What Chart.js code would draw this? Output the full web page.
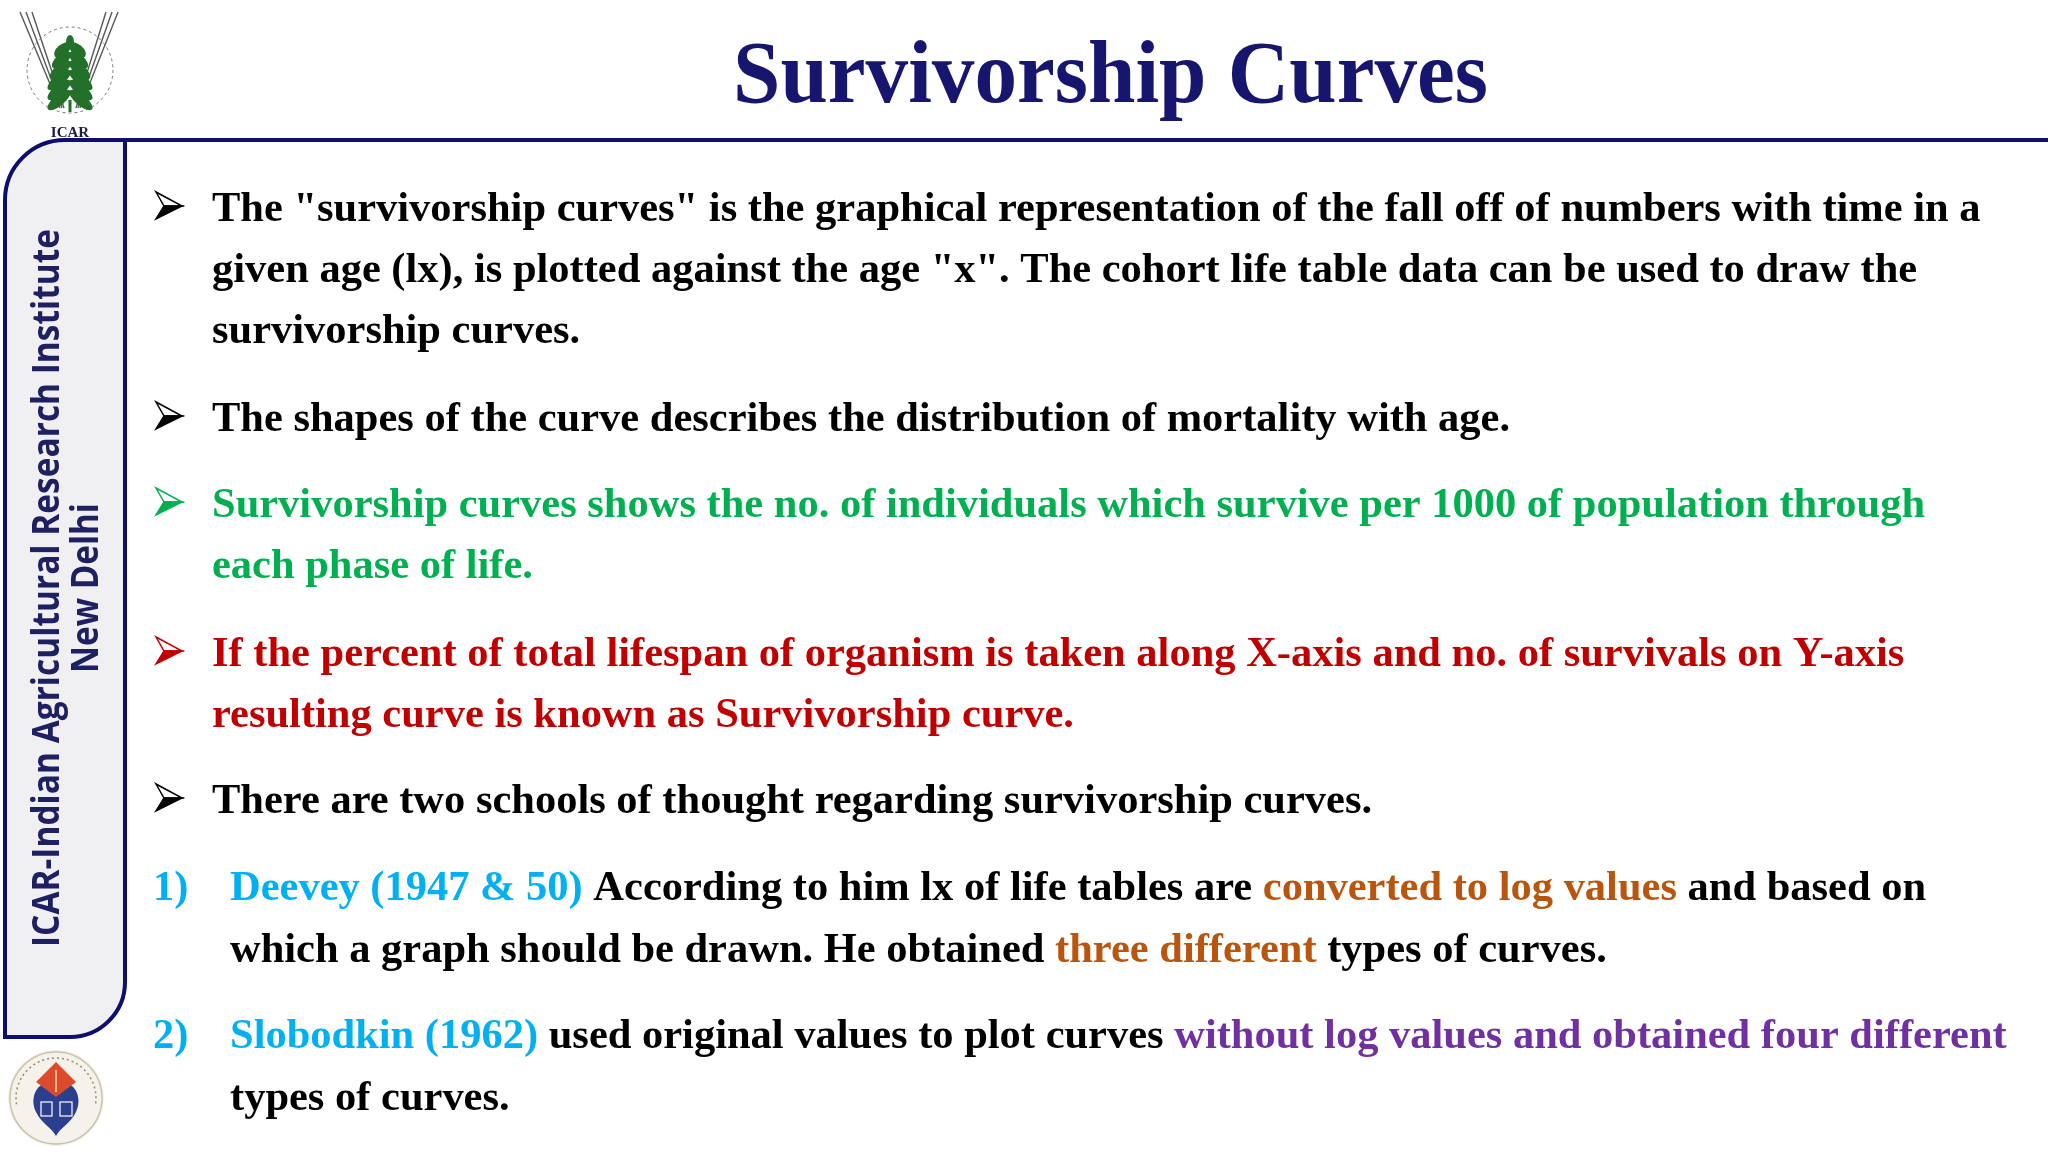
<!DOCTYPE html>
<html>
<head>
<meta charset="utf-8">
<script src="https://cdn.jsdelivr.net/npm/chart.js@4.4.0/dist/chart.umd.min.js"></script>
<style>
    html, body { margin: 0; padding: 0; background: #ffffff; overflow: hidden; }
    canvas { display: block; }
</style>
</head>
<body>
<canvas id="slide" width="2048" height="1152"></canvas>
<script>
// slide content
const titleText = 'Survivorship Curves';
const sideTexts = ['ICAR-Indian Agricultural Research Institute', 'New Delhi'];
const logoLabel = 'ICAR';

// each row: marker ('arrow', '1)', '2)' or ''), marker colour key, text segments [text, colour key]
const rowMarkers = ['arrow', '', '', 'arrow', 'arrow', '', 'arrow', '', 'arrow', '1)', '', '2)', ''];
const rowMarkerColors = ['black', '', '', 'black', 'green', '', 'red', '', 'black', 'cyan', '', 'cyan', ''];
const rowSegments = [
    [['The "survivorship curves" is the graphical representation of the fall off of numbers with time in a', 'black']],
    [['given age (lx), is plotted against the age "x". The cohort life table data can be used to draw the', 'black']],
    [['survivorship curves.', 'black']],
    [['The shapes of the curve describes the distribution of mortality with age.', 'black']],
    [['Survivorship curves shows the no. of individuals which survive per 1000 of population through', 'green']],
    [['each phase of life.', 'green']],
    [['If the percent of total lifespan of organism is taken along X-axis and no. of survivals on Y-axis', 'red']],
    [['resulting curve is known as Survivorship curve.', 'red']],
    [['There are two schools of thought regarding survivorship curves.', 'black']],
    [['Deevey (1947 & 50)', 'cyan'], [' According to him lx of life tables are ', 'black'], ['converted to log values', 'brown'], [' and based on', 'black']],
    [['which a graph should be drawn. He obtained ', 'black'], ['three different', 'brown'], [' types of curves.', 'black']],
    [['Slobodkin (1962)', 'cyan'], [' used original values to plot curves ', 'black'], ['without log values and obtained four different', 'purple']],
    [['types of curves.', 'black']]
];

// layout
const rowBaselines = [221, 282, 343, 431, 517, 578, 666, 727, 813, 900, 962, 1048, 1110];
const rowIndents = [212, 212, 212, 212, 212, 212, 212, 212, 212, 230, 230, 230, 230];

const palette = {
    black: '#000000',
    green: '#00b050',
    red: '#c00000',
    cyan: '#00b0f0',
    brown: '#b8560f',
    purple: '#7030a0',
    navy: '#0e0e6e',
    title: '#16166e',
    side: '#1e2062'
};

function drawArrow(c, x, b, color) {
    // wingdings style arrowhead: outlined top half, solid bottom half
    c.save();
    c.lineJoin = 'miter';
    c.beginPath();
    c.moveTo(x, b - 29);
    c.lineTo(x + 26, b - 15);
    c.lineTo(x + 8, b - 15);
    c.closePath();
    c.fillStyle = '#ffffff';
    c.fill();
    c.strokeStyle = color;
    c.lineWidth = 1.5;
    c.stroke();
    c.beginPath();
    c.moveTo(x + 8, b - 15);
    c.lineTo(x + 26, b - 15);
    c.lineTo(x, b - 2);
    c.closePath();
    c.fillStyle = color;
    c.fill();
    c.stroke();
    c.restore();
}

function drawIcarLogo(c) {
    c.save();
    // crossing straw lines
    c.strokeStyle = '#555a55';
    c.lineWidth = 1.4;
    [20, 26, 32].forEach((sx, i) => {
        c.beginPath(); c.moveTo(sx, 12); c.lineTo(60 + i * 2, 108); c.stroke();
    });
    [106, 112, 118].forEach((sx, i) => {
        c.beginPath(); c.moveTo(sx, 12); c.lineTo(76 + i * 2, 108); c.stroke();
    });
    // dashed ring
    c.setLineDash([3, 3]);
    c.strokeStyle = '#777';
    c.lineWidth = 1;
    c.beginPath(); c.arc(70, 70, 43, 0, Math.PI * 2); c.stroke();
    c.setLineDash([]);
    // wheat ear
    c.fillStyle = '#23702a';
    for (let i = 0; i < 6; i++) {
        const y = 50 + i * 10;
        const w = 10 + Math.min(i, 3) * 1.5;
        c.beginPath(); c.ellipse(70 - w * 0.75, y, w, 5.5, -0.7, 0, Math.PI * 2); c.fill();
        c.beginPath(); c.ellipse(70 + w * 0.75, y, w, 5.5, 0.7, 0, Math.PI * 2); c.fill();
    }
    c.beginPath(); c.ellipse(70, 42, 4, 7, 0, 0, Math.PI * 2); c.fill();
    c.fillRect(68.5, 100, 3, 12);
    c.fillStyle = '#1b1b4a';
    c.font = 'bold 15px "Liberation Serif"';
    c.textAlign = 'center';
    c.fillText(logoLabel, 70, 137);
    c.restore();
}

function drawIariLogo(c) {
    c.save();
    c.fillStyle = '#f4f2ea';
    c.beginPath(); c.arc(56, 1098, 48, 0, Math.PI * 2); c.fill();
    c.strokeStyle = '#c9c3a8';
    c.lineWidth = 1.5;
    c.beginPath(); c.arc(56, 1098, 46, 0, Math.PI * 2); c.stroke();
    c.strokeStyle = '#8f8a70';
    c.setLineDash([2, 3]);
    c.beginPath(); c.arc(56, 1098, 40, Math.PI * 0.95, Math.PI * 2.05); c.stroke();
    c.setLineDash([]);
    // blue leaf
    c.fillStyle = '#2c3f8e';
    c.beginPath();
    c.moveTo(56, 1086);
    c.bezierCurveTo(40, 1076, 28, 1096, 36, 1112);
    c.bezierCurveTo(42, 1124, 52, 1128, 56, 1136);
    c.bezierCurveTo(60, 1128, 70, 1124, 76, 1112);
    c.bezierCurveTo(84, 1096, 72, 1076, 56, 1086);
    c.fill();
    // red diamond
    c.fillStyle = '#dc4a2c';
    c.beginPath();
    c.moveTo(56, 1062); c.lineTo(76, 1082); c.lineTo(56, 1097); c.lineTo(36, 1082);
    c.closePath(); c.fill();
    c.strokeStyle = '#f4d9a0';
    c.lineWidth = 1.5;
    c.beginPath(); c.moveTo(56, 1070); c.lineTo(56, 1092); c.stroke();
    c.strokeStyle = '#ffffff';
    c.lineWidth = 1.2;
    c.strokeRect(41, 1102, 11, 14);
    c.strokeRect(60, 1102, 12, 14);
    c.restore();
}

const slidePlugin = {
    id: 'slide',
    beforeDraw(chart) {
        const c = chart.ctx;
        c.save();
        c.fillStyle = '#ffffff';
        c.fillRect(0, 0, 2048, 1152);

        // side panel and header rule
        c.beginPath();
        c.moveTo(65, 140);
        c.arcTo(5, 140, 5, 200, 60);
        c.lineTo(5, 1037);
        c.lineTo(70, 1037);
        c.arcTo(125, 1037, 125, 980, 55);
        c.lineTo(125, 140);
        c.closePath();
        c.fillStyle = '#f0f0f3';
        c.fill();

        c.beginPath();
        c.moveTo(2048, 140);
        c.lineTo(65, 140);
        c.arcTo(5, 140, 5, 200, 60);
        c.lineTo(5, 1037);
        c.lineTo(70, 1037);
        c.arcTo(125, 1037, 125, 980, 55);
        c.lineTo(125, 140);
        c.strokeStyle = palette.navy;
        c.lineWidth = 4;
        c.stroke();

        // rotated institute name
        c.fillStyle = palette.side;
        c.textAlign = 'center';
        c.textBaseline = 'alphabetic';
        const sideBase = [59, 98];
        const sideLen = [718, 170];
        sideTexts.forEach((t, i) => {
            c.save();
            c.translate(sideBase[i], 588);
            c.rotate(-Math.PI / 2);
            c.font = 'bold 37px "Open Sans"';
            const w = c.measureText(t).width;
            c.scale(sideLen[i] / w, 1);
            c.fillText(t, 0, 0);
            c.restore();
        });

        // title: Times-like bold, slightly condensed
        c.textAlign = 'left';
        c.font = 'bold 89px "Liberation Serif"';
        const tw = c.measureText(titleText).width;
        c.save();
        c.translate(733, 102);
        c.scale(755 / tw, 1);
        c.fillStyle = palette.title;
        c.fillText(titleText, 0, 0);
        c.restore();

        // body text, size fitted to the first full line
        c.font = 'bold 40px "Liberation Serif"';
        const fw = c.measureText(rowSegments[0][0][0]).width;
        const bodySize = 40 * 1769 / fw;
        c.font = 'bold ' + bodySize + 'px "Liberation Serif"';

        rowSegments.forEach((segs, i) => {
            const b = rowBaselines[i];
            const m = rowMarkers[i];
            if (m === 'arrow') {
                drawArrow(c, 156, b, palette[rowMarkerColors[i]]);
            } else if (m) {
                c.fillStyle = palette[rowMarkerColors[i]];
                c.fillText(m, 153, b);
            }
            let x = rowIndents[i];
            segs.forEach(([text, key]) => {
                c.fillStyle = palette[key];
                c.fillText(text, x, b);
                x += c.measureText(text).width;
            });
        });

        drawIcarLogo(c);
        drawIariLogo(c);
        c.restore();
    }
};

const ctx = document.getElementById('slide').getContext('2d');
new Chart(ctx, {
    type: 'scatter',
    data: { datasets: [] },
    options: {
        responsive: false,
        animation: false,
        devicePixelRatio: 1,
        events: [],
        layout: { padding: 0 },
        scales: {
            x: { display: false },
            y: { display: false }
        },
        plugins: {
            legend: { display: false },
            tooltip: { enabled: false }
        }
    },
    plugins: [slidePlugin]
});
</script>
</body>
</html>
